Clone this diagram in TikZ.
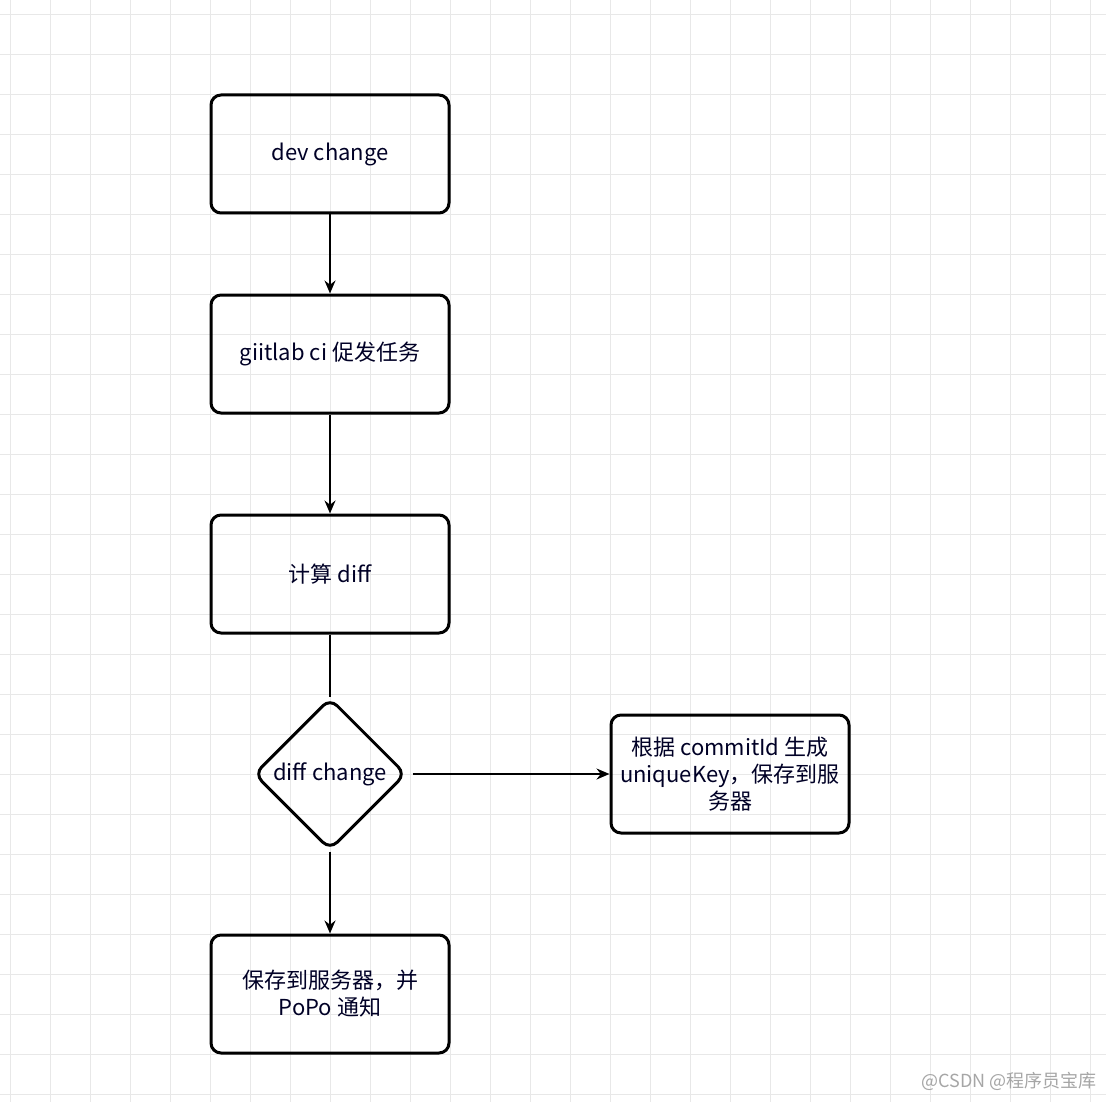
\documentclass[tikz,border=0pt]{standalone}
\usepackage{fontspec}
\setmainfont{Noto Sans CJK SC}
\usetikzlibrary{shapes.geometric,arrows.meta}
\begin{document}
\begin{tikzpicture}[x=1pt,y=-1pt,
  box/.style={draw=black,line width=3pt,rounded corners=10pt,minimum width=238pt,minimum height=118pt,align=center,font=\fontsize{22}{27}\selectfont,text=black!85!blue},
  dia/.style={draw=black,line width=3pt,diamond,rounded corners=10pt,minimum width=152pt,minimum height=152pt,inner sep=0pt,font=\fontsize{22}{27}\selectfont,text=black!85!blue},
  conn/.style={line width=1.5pt,-{Stealth[length=13pt,width=11pt]}}]
\useasboundingbox (0,0) rectangle (1106,1102);
\fill[white] (0,0) rectangle (1106,1102);
\foreach \x in {10,50,...,1100} \draw[black!9,line width=0.7pt] (\x,0) -- (\x,1102);
\foreach \y in {14,54,...,1100} \draw[black!9,line width=0.7pt] (0,\y) -- (1106,\y);
\node[box] (a) at (330,154) {dev change};
\node[box] (b) at (330,354) {giitlab ci 促发任务};
\node[box] (c) at (330,574) {计算 diff};
\node[dia] (d) at (330,774) {diff change};
\node[box,inner sep=1pt] (e) at (730,774) {根据 commitId 生成\\uniqueKey，保存到服\\务器};
\node[box] (f) at (330,994) {保存到服务器，并\\PoPo 通知};
\draw[conn] (a) -- (b);
\draw[conn] (b) -- (c);
\draw[line width=1.5pt] (c) -- (d);
\draw[conn] (d.east) ++(5,0) -- (e);
\draw[conn] (d) -- (f);
\node[text=black!35,font=\fontsize{18}{20}\selectfont,anchor=east] (w) at (1100,1081) {@CSDN @程序员宝库};
\end{tikzpicture}
\end{document}
